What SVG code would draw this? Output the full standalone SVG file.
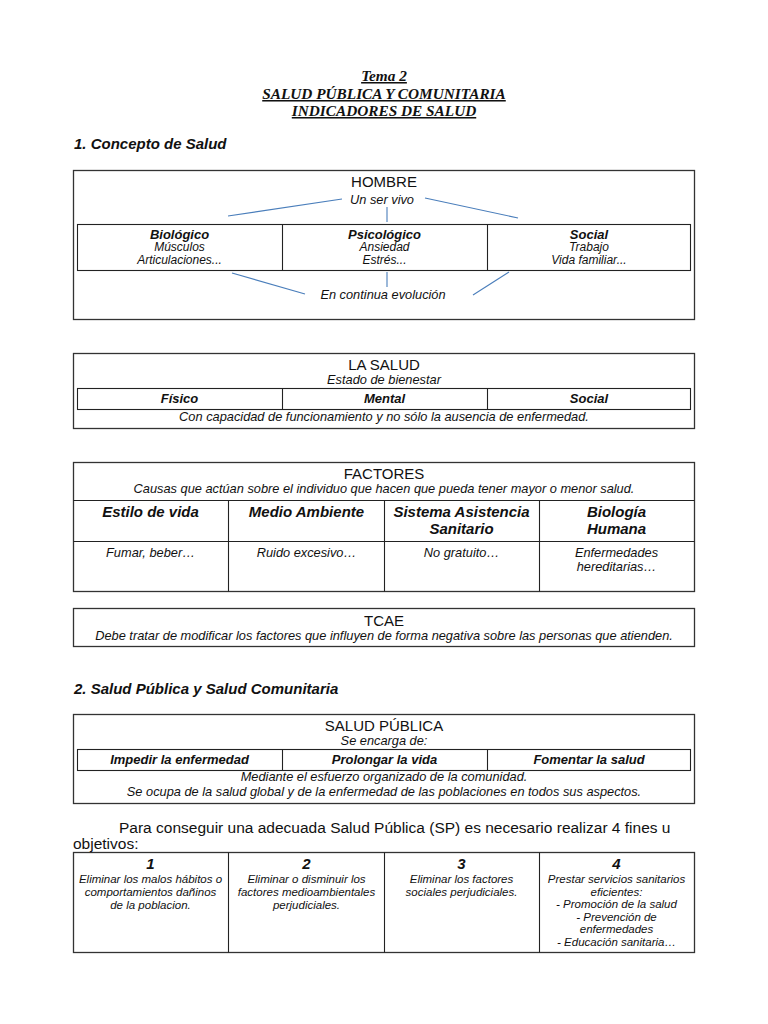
<svg xmlns="http://www.w3.org/2000/svg" width="768" height="1024" viewBox="0 0 768 1024">
<style>
text{font-family:"Liberation Sans",Arial,sans-serif;fill:#111;text-anchor:middle}
.ttl{font-family:"Liberation Serif","Times New Roman",serif;font-weight:bold;font-style:italic;font-size:15.3px;text-decoration:underline}
.h{font-weight:bold;font-style:italic;font-size:15px;text-anchor:start}
.big{font-size:15px}
.it{font-style:italic;font-size:12.8px}
.sit{font-style:italic;font-size:12px}
.bi{font-weight:bold;font-style:italic;font-size:13px}
.bi15{font-weight:bold;font-style:italic;font-size:15px}
.s6{font-style:italic;font-size:11.5px}
.para{font-size:15.5px;text-anchor:start}
.box{fill:#fff;stroke:#333;stroke-width:1.3}
.cell{fill:none;stroke:#222;stroke-width:1.1}
.con{stroke:#4a7ebb;stroke-width:1.1;fill:none}
</style>
<rect width="768" height="1024" fill="#fff"/>

<g id="title">
<text class="ttl" x="384" y="81">Tema 2</text>
<text class="ttl" x="384" y="99">SALUD PÚBLICA Y COMUNITARIA</text>
<text class="ttl" x="384" y="116">INDICADORES DE SALUD</text>
</g>

<text class="h" x="74" y="149">1. Concepto de Salud</text>

<g id="hombre">
<rect class="box" x="73.5" y="170.5" width="621" height="149"/>
<text class="big" x="384" y="187">HOMBRE</text>
<text class="it" x="382" y="204">Un ser vivo</text>
<text class="it" x="383" y="299">En continua evolución</text>
</g>
<g id="dimensiones">
<rect class="cell" x="77.5" y="224.5" width="613" height="46"/>
<line class="cell" x1="282.5" y1="224.5" x2="282.5" y2="270.5"/>
<line class="cell" x1="487.5" y1="224.5" x2="487.5" y2="270.5"/>
<text class="bi" x="179.5" y="239">Biológico</text>
<text class="sit" x="179.5" y="251">Músculos</text>
<text class="sit" x="179.5" y="264">Articulaciones...</text>
<text class="bi" x="384.5" y="239">Psicológico</text>
<text class="sit" x="384.5" y="251">Ansiedad</text>
<text class="sit" x="384.5" y="264">Estrés...</text>
<text class="bi" x="589" y="239">Social</text>
<text class="sit" x="589" y="251">Trabajo</text>
<text class="sit" x="589" y="264">Vida familiar...</text>
</g>

<g id="connectors">
<line class="con" x1="342" y1="199" x2="228" y2="216"/>
<line class="con" x1="425" y1="198" x2="518" y2="218"/>
<line class="con" x1="387" y1="207" x2="387" y2="222"/>
<line class="con" x1="387" y1="272" x2="387" y2="287"/>
<line class="con" x1="232" y1="273" x2="305" y2="294"/>
<line class="con" x1="509" y1="272" x2="473" y2="295"/>
</g>

<g id="la-salud">
<rect class="box" x="73.5" y="353.5" width="621" height="75"/>
<text class="big" x="384" y="370">LA SALUD</text>
<text class="it" x="384" y="384">Estado de bienestar</text>
<rect class="cell" x="77.5" y="388.5" width="613" height="21"/>
<line class="cell" x1="282.5" y1="388.5" x2="282.5" y2="409.5"/>
<line class="cell" x1="487.5" y1="388.5" x2="487.5" y2="409.5"/>
<text class="bi" x="179.5" y="403">Físico</text>
<text class="bi" x="384.5" y="403">Mental</text>
<text class="bi" x="589" y="403">Social</text>
<text class="it" x="384" y="421">Con capacidad de funcionamiento y no sólo la ausencia de enfermedad.</text>
</g>

<g id="factores">
<rect class="box" x="73.5" y="462.5" width="621" height="129"/>
<text class="big" x="384" y="479">FACTORES</text>
<text class="it" x="384" y="493">Causas que actúan sobre el individuo que hacen que pueda tener mayor o menor salud.</text>
<line class="cell" x1="73.5" y1="500.5" x2="694.5" y2="500.5"/>
<line class="cell" x1="73.5" y1="541.5" x2="694.5" y2="541.5"/>
<line class="cell" x1="228.5" y1="500.5" x2="228.5" y2="591.5"/>
<line class="cell" x1="384.5" y1="500.5" x2="384.5" y2="591.5"/>
<line class="cell" x1="539.5" y1="500.5" x2="539.5" y2="591.5"/>
<text class="bi15" x="150.5" y="517">Estilo de vida</text>
<text class="bi15" x="306.5" y="517">Medio Ambiente</text>
<text class="bi15" x="461.5" y="517">Sistema Asistencia</text>
<text class="bi15" x="461.5" y="534">Sanitario</text>
<text class="bi15" x="616.5" y="517">Biología</text>
<text class="bi15" x="616.5" y="534">Humana</text>
<text class="it" x="150.5" y="557">Fumar, beber…</text>
<text class="it" x="306.5" y="557">Ruido excesivo…</text>
<text class="it" x="461.5" y="557">No gratuito…</text>
<text class="it" x="616.5" y="557">Enfermedades</text>
<text class="it" x="616.5" y="571">hereditarias…</text>
</g>

<g id="tcae">
<rect class="box" x="73.5" y="608.5" width="621" height="38"/>
<text class="big" x="384" y="626">TCAE</text>
<text class="it" x="384" y="640">Debe tratar de modificar los factores que influyen de forma negativa sobre las personas que atienden.</text>
</g>

<text class="h" x="74" y="694">2. Salud Pública y Salud Comunitaria</text>

<g id="salud-publica">
<rect class="box" x="73.5" y="714.5" width="621" height="89"/>
<text class="big" x="384" y="731">SALUD PÚBLICA</text>
<text class="it" x="384" y="745">Se encarga de:</text>
<rect class="cell" x="77.5" y="749.5" width="613" height="21"/>
<line class="cell" x1="282.5" y1="749.5" x2="282.5" y2="770.5"/>
<line class="cell" x1="487.5" y1="749.5" x2="487.5" y2="770.5"/>
<text class="bi" x="179.5" y="764">Impedir la enfermedad</text>
<text class="bi" x="384.5" y="764">Prolongar la vida</text>
<text class="bi" x="589" y="764">Fomentar la salud</text>
<text class="it" x="384" y="781">Mediante el esfuerzo organizado de la comunidad.</text>
<text class="it" x="384" y="796">Se ocupa de la salud global y de la enfermedad de las poblaciones en todos sus aspectos.</text>
</g>

<text class="para" x="119" y="833">Para conseguir una adecuada Salud Pública (SP) es necesario realizar 4 fines u</text>
<text class="para" x="73" y="849">objetivos:</text>

<g id="objetivos">
<rect class="box" x="73.5" y="852.5" width="621" height="100"/>
<line class="cell" x1="228.5" y1="852.5" x2="228.5" y2="952.5"/>
<line class="cell" x1="384.5" y1="852.5" x2="384.5" y2="952.5"/>
<line class="cell" x1="539.5" y1="852.5" x2="539.5" y2="952.5"/>
<text class="bi15" x="150.5" y="869">1</text>
<text class="s6" x="150.5" y="883">Eliminar los malos hábitos o</text>
<text class="s6" x="150.5" y="896">comportamientos dañinos</text>
<text class="s6" x="150.5" y="909">de la poblacion.</text>
<text class="bi15" x="306.5" y="869">2</text>
<text class="s6" x="306.5" y="883">Eliminar o disminuir los</text>
<text class="s6" x="306.5" y="896">factores medioambientales</text>
<text class="s6" x="306.5" y="909">perjudiciales.</text>
<text class="bi15" x="461.5" y="869">3</text>
<text class="s6" x="461.5" y="883">Eliminar los factores</text>
<text class="s6" x="461.5" y="896">sociales perjudiciales.</text>
<text class="bi15" x="616.5" y="869">4</text>
<text class="s6" x="616.5" y="883">Prestar servicios sanitarios</text>
<text class="s6" x="616.5" y="895.5">eficientes:</text>
<text class="s6" x="616.5" y="908">- Promoción de la salud</text>
<text class="s6" x="616.5" y="920.5">- Prevención de</text>
<text class="s6" x="616.5" y="933">enfermedades</text>
<text class="s6" x="616.5" y="945.5">- Educación sanitaria…</text>
</g>
</svg>
